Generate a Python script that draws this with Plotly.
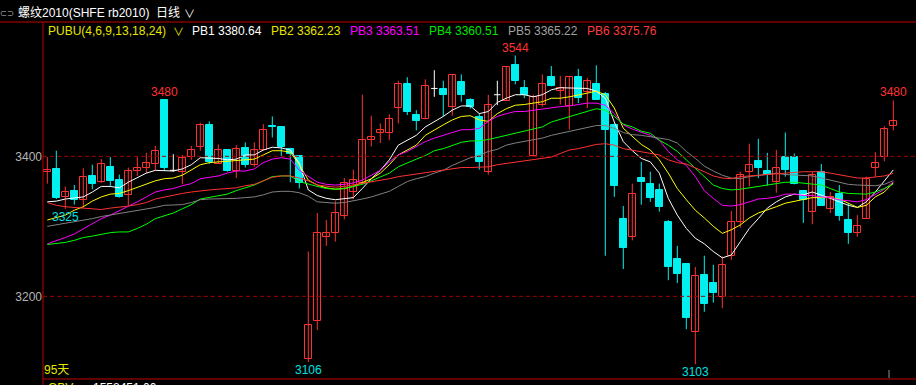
import plotly.graph_objects as go

# ---------------- data ----------------
opens = [3378,3382,3342,3351,3337,3372,3363,3385,3366,3345,
         3379,3384,3389,3480,3380,3378,3399,3414,3445,3389,
         3409,3379,3412,3387,3409,3444,3442,3411,3400,3110,
         3165,3285,3291,3315,3349,3362,3423,3434,3434,3469,
         3503,3459,3453,3497,3496,3471,3506,3480,3456,3378,
         3488,3479,3530,3498,3401,3474,3513,3493,3472,3514,
         3492,3503,3489,3445,3310,3285,3369,3360,3352,3306,
         3253,3246,3149,3230,3219,3199,3257,3306,3378,3393,
         3379,3363,3399,3399,3351,3320,3377,3325,3346,3309,
         3291,3311,3384,3399,3443]
highs = [3399,3408,3357,3359,3383,3388,3396,3399,3374,3384,
         3399,3405,3415,3480,3403,3402,3415,3448,3450,3417,
         3410,3416,3420,3420,3446,3457,3443,3412,3402,3264,
         3319,3309,3336,3369,3381,3488,3458,3447,3460,3508,
         3513,3466,3510,3523,3508,3517,3517,3483,3461,3488,
         3508,3529,3544,3509,3488,3517,3529,3515,3515,3525,
         3512,3530,3492,3447,3329,3361,3392,3378,3361,3309,
         3272,3246,3242,3258,3245,3257,3322,3378,3418,3425,
         3405,3409,3434,3404,3352,3378,3389,3349,3359,3333,
         3316,3371,3406,3443,3480]
lows = [3361,3339,3325,3331,3327,3353,3362,3357,3341,3330,
        3372,3376,3380,3379,3378,3360,3395,3408,3389,3389,
        3378,3369,3384,3385,3408,3427,3400,3363,3354,3106,
        3152,3272,3278,3310,3339,3360,3414,3419,3423,3447,
        3459,3437,3453,3485,3457,3458,3478,3468,3381,3374,
        3473,3479,3503,3483,3400,3471,3500,3474,3438,3476,
        3469,3482,3258,3342,3239,3280,3331,3335,3321,3223,
        3219,3153,3103,3178,3191,3183,3252,3298,3357,3369,
        3358,3348,3371,3360,3305,3303,3329,3319,3308,3275,
        3285,3311,3371,3393,3437]
closes = [3381,3341,3349,3337,3371,3360,3389,3365,3342,3379,
          3384,3390,3407,3383,3380,3397,3409,3445,3392,3409,
          3379,3411,3388,3409,3437,3442,3414,3404,3362,3159,
          3290,3291,3319,3362,3366,3423,3427,3437,3453,3503,
          3464,3451,3500,3497,3487,3516,3487,3471,3392,3473,
          3488,3527,3508,3487,3485,3504,3501,3497,3513,3484,
          3508,3480,3437,3358,3269,3346,3364,3341,3328,3242,
          3232,3169,3229,3189,3205,3245,3306,3373,3388,3384,
          3373,3384,3380,3361,3337,3374,3329,3342,3315,3291,
          3301,3367,3391,3439,3451]

pb1 = [3335,3336,3339,3340,3342,3349,3357,3357,3355,3363,
       3369,3376,3380,3380,3379,3382,3388,3398,3398,3397,
       3395,3396,3402,3402,3409,3413,3412,3409,3390,3352,
       3344,3340,3338,3339,3341,3354,3368,3380,3395,3416,
       3423,3430,3442,3449,3457,3466,3472,3472,3461,3464,
       3477,3483,3488,3488,3485,3488,3495,3498,3498,3497,
       3497,3493,3483,3449,3421,3408,3397,3392,3376,3340,
       3316,3297,3283,3275,3264,3255,3259,3278,3297,3311,
       3326,3335,3342,3346,3345,3349,3345,3340,3335,3330,
       3327,3335,3349,3364,3380.64]
pb2 = [3309,3312,3316,3323,3328,3336,3342,3346,3347,3351,
       3356,3360,3365,3368,3369,3373,3380,3388,3391,3392,
       3392,3393,3395,3396,3402,3408,3408,3406,3388,3366,
       3359,3355,3353,3354,3357,3363,3368,3376,3388,3402,
       3409,3416,3430,3438,3445,3452,3457,3458,3452,3450,
       3461,3468,3473,3474,3476,3478,3483,3483,3485,3488,
       3490,3493,3488,3469,3440,3428,3417,3409,3395,3376,
       3354,3338,3323,3312,3300,3290,3295,3302,3312,3319,
       3323,3328,3333,3336,3339,3341,3341,3341,3339,3333,
       3327,3330,3342,3349,3362.23]
pb3 = [3275,3279,3284,3289,3296,3303,3311,3316,3322,3328,
       3335,3342,3349,3352,3354,3358,3361,3368,3370,3372,
       3376,3379,3379,3382,3391,3396,3398,3396,3380,3371,
       3363,3360,3359,3360,3362,3366,3373,3380,3392,3402,
       3407,3414,3421,3426,3430,3433,3438,3438,3440,3450,
       3457,3461,3464,3464,3466,3468,3469,3471,3472,3474,
       3476,3476,3473,3461,3445,3439,3434,3430,3423,3407,
       3395,3387,3371,3351,3340,3330,3329,3331,3335,3339,
       3340,3342,3346,3346,3344,3344,3342,3341,3338,3336,
       3335,3338,3345,3353,3363.51]
pb4 = [3274,3275,3277,3280,3284,3286,3289,3291,3292,3292,
       3297,3303,3311,3315,3319,3325,3331,3339,3341,3343,
       3346,3351,3355,3359,3365,3371,3372,3372,3364,3360,
       3357,3354,3353,3354,3357,3360,3365,3371,3376,3385,
       3391,3396,3401,3408,3411,3415,3420,3422,3422,3424,
       3427,3430,3433,3436,3440,3442,3449,3453,3457,3461,
       3464,3468,3466,3457,3446,3442,3436,3433,3423,3416,
       3407,3395,3383,3372,3359,3354,3352,3353,3355,3357,
       3359,3361,3363,3363,3362,3361,3359,3354,3349,3347,
       3346,3346,3349,3354,3360.51]
pb5 = [3300,3302,3304,3307,3308,3311,3314,3316,3319,3321,
       3323,3325,3327,3330,3330,3331,3334,3338,3339,3339,
       3339,3340,3341,3342,3345,3349,3350,3350,3348,3343,
       3335,3334,3333,3334,3336,3339,3342,3346,3350,3357,
       3364,3368,3371,3376,3380,3387,3393,3398,3401,3407,
       3410,3416,3419,3421,3423,3426,3430,3433,3436,3439,
       3441,3444,3444,3440,3434,3431,3430,3428,3426,3424,
       3419,3407,3397,3386,3379,3373,3369,3368,3371,3373,
       3374,3376,3374,3373,3372,3372,3369,3366,3364,3360,
       3359,3358,3358,3360,3365.22]
pb6 = [3334,3330,3328,3327,3326,3324,3324,3326,3327,3329,
       3331,3334,3339,3342,3345,3347,3349,3351,3352,3353,
       3354,3355,3358,3360,3365,3370,3372,3372,3369,3365,
       3359,3357,3356,3357,3359,3361,3364,3366,3368,3371,
       3373,3375,3376,3378,3380,3383,3384,3384,3385,3385,
       3388,3390,3392,3394,3395,3397,3399,3404,3409,3411,
       3414,3417,3418,3416,3411,3409,3407,3404,3402,3395,
       3391,3389,3384,3378,3372,3369,3368,3371,3372,3373,
       3374,3376,3377,3378,3378,3378,3378,3376,3374,3371,
       3369,3369,3370,3372,3375.76]

ma_names = ["PB1", "PB2", "PB3", "PB4", "PB5", "PB6"]
ma_series = [pb1, pb2, pb3, pb4, pb5, pb6]
y_ticks = [3200, 3400]
high_label_idx = [13, 52, 94]
low_label_idx = [2, 29, 72]

# ---------------- styling ----------------
RED = "#FF3232"
CYAN = "#00F0F0"
MA_COLORS = ["#FFFFFF", "#FFFF00", "#FF00FF", "#00FF00", "#808080", "#FF3232"]
TXT_COLORS = ["#FFFFFF", "#E6E600", "#FF00FF", "#00E600", "#A0A0A0", "#FF3C3C"]
FONT = "Liberation Sans, Noto Sans CJK SC"
BODY_W = 0.72

n = len(opens)
idx = list(range(n))
up = [i for i in idx if closes[i] > opens[i]]
dn = [i for i in idx if closes[i] < opens[i]]
dj = [i for i in idx if closes[i] == opens[i]]

fig = go.Figure()


def wick_trace(ids, color):
    xs, ys = [], []
    for i in ids:
        xs += [i, i, None]
        ys += [lows[i], highs[i], None]
    return go.Scatter(x=xs, y=ys, mode="lines", line=dict(color=color, width=1),
                      hoverinfo="skip")


fig.add_trace(wick_trace(up, RED))
fig.add_trace(wick_trace(dn, CYAN))
fig.add_trace(wick_trace(dj, "#FFFFFF"))

fig.add_trace(go.Bar(x=up, y=[closes[i] - opens[i] for i in up], base=[opens[i] for i in up],
                     width=BODY_W, marker=dict(color="#000000", line=dict(color=RED, width=1))))
fig.add_trace(go.Bar(x=dn, y=[opens[i] - closes[i] for i in dn], base=[closes[i] for i in dn],
                     width=BODY_W, marker=dict(color=CYAN, line=dict(color=CYAN, width=1))))
# doji cross bars
xs, ys = [], []
for i in dj:
    xs += [i - BODY_W / 2, i + BODY_W / 2, None]
    ys += [opens[i], closes[i], None]
fig.add_trace(go.Scatter(x=xs, y=ys, mode="lines", line=dict(color="#FFFFFF", width=1)))

# moving-average lines (on top)
for vals, col in zip(ma_series, MA_COLORS):
    fig.add_trace(go.Scatter(x=idx, y=vals, mode="lines", line=dict(color=col, width=1)))

# ---------------- layout ----------------
W, H = 916, 385
L, R, T, B = 43, 0, 22, 6
PW, PH = W - L - R, H - T - B


def px(x):
    return (x - L) / PW


def py(y):
    return (H - B - y) / PH


fig.update_layout(
    width=W, height=H,
    margin=dict(l=L, r=R, t=T, b=B, pad=0),
    paper_bgcolor="#000000", plot_bgcolor="#000000",
    showlegend=False, barmode="overlay", bargap=0,
    xaxis=dict(range=[-0.478, 96.52], visible=False, fixedrange=True),
    yaxis=dict(range=[3081.9, 3591.9], tickvals=y_ticks, ticktext=[str(v) for v in y_ticks],
               tickfont=dict(family=FONT, size=12, color="#B4B4B4"),
               showgrid=False, zeroline=False, ticks="", showline=False, fixedrange=True),
)

shapes = []
for v in y_ticks:
    shapes.append(dict(type="line", xref="paper", yref="y", x0=0, x1=1, y0=v, y1=v,
                       line=dict(color="#A00000", width=1, dash="4px,3px")))
frame = "#C00000"
shapes.append(dict(type="line", xref="paper", yref="paper", x0=px(0), x1=1, y0=1, y1=1,
                   line=dict(color=frame, width=1)))
shapes.append(dict(type="line", xref="paper", yref="paper", x0=0, x1=0, y0=py(H), y1=1,
                   line=dict(color=frame, width=1)))
shapes.append(dict(type="line", xref="paper", yref="paper", x0=0, x1=1, y0=0, y1=0,
                   line=dict(color=frame, width=1)))
shapes.append(dict(type="line", xref="paper", yref="paper", x0=px(889), x1=px(889),
                   y0=py(378), y1=py(370), line=dict(color="#909090", width=1)))
fig.update_layout(shapes=shapes)

ann = []


def text(x, y, s, color, size=12, anchor="left", family=FONT):
    ann.append(dict(xref="paper", yref="paper", x=px(x), y=py(y), text=s, showarrow=False,
                    xanchor=anchor, yanchor="middle", borderpad=0,
                    font=dict(family=family, size=size, color=color)))


# header
text(-1, 13, "⊂⊃", "#C8C8C8", size=7)
text(17, 13, "螺纹2010(SHFE rb2010)", "#FFFFFF", size=12)
text(155, 13, "日线", "#FFFFFF", size=12)
text(183, 14, "∨", "#FFFFFF", size=11)

# indicator legend
text(47, 31, "PUBU(4,6,9,13,18,24)", "#E6E600", size=12)
text(172, 32, "∨", "#E6E600", size=11)
starts = [191, 270, 349, 428, 507, 586]
for nm, vals, col, sx in zip(ma_names, ma_series, TXT_COLORS, starts):
    text(sx, 31, f"{nm} {vals[-1]:.2f}", col, size=12)

# extreme labels
for i in high_label_idx:
    ann.append(dict(x=i, y=highs[i], xref="x", yref="y", text=str(highs[i]), showarrow=False,
                    xanchor="center", yanchor="bottom", yshift=-1,
                    font=dict(family=FONT, size=12, color="#FF3232")))
for i in low_label_idx:
    ann.append(dict(x=i, y=lows[i], xref="x", yref="y", text=str(lows[i]), showarrow=False,
                    xanchor="center", yanchor="top", yshift=1,
                    font=dict(family=FONT, size=12, color="#00E0E0")))

text(43, 370, f"{n}天", "#E6E600", size=12)
text(47, 388, "OBV", "#E6E600", size=12)
text(92, 388, "1558451.00", "#FFFFFF", size=12)

fig.update_layout(annotations=ann)
fig.write_html("out.html")
